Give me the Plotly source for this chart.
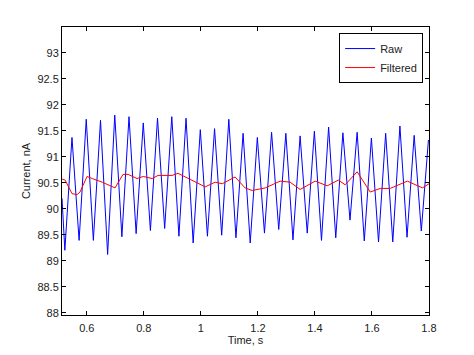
import plotly.graph_objects as go

# Raw signal: alternating extremes
raw_t = [0.513, 0.523, 0.548, 0.573, 0.598, 0.623, 0.648, 0.673, 0.698, 0.723,
         0.748, 0.773, 0.798, 0.823, 0.848, 0.873, 0.898, 0.923, 0.948, 0.973,
         0.998, 1.023, 1.048, 1.073, 1.098, 1.123, 1.148, 1.173, 1.198, 1.223,
         1.248, 1.273, 1.298, 1.323, 1.348, 1.373, 1.398, 1.423, 1.448, 1.473,
         1.498, 1.523, 1.548, 1.573, 1.598, 1.623, 1.648, 1.673, 1.698, 1.723,
         1.748, 1.773, 1.798, 1.800]
raw_v = [90.20, 89.20, 91.37, 89.39, 91.72, 89.39, 91.70, 89.12, 91.80, 89.46,
         91.77, 89.52, 91.65, 89.58, 91.74, 89.62, 91.77, 89.47, 91.74, 89.34,
         91.52, 89.47, 91.54, 89.49, 91.72, 89.44, 91.45, 89.34, 91.37, 89.53,
         91.47, 89.60, 91.45, 89.40, 91.40, 89.53, 91.49, 89.39, 91.57, 89.44,
         91.46, 89.78, 91.47, 89.38, 91.36, 89.36, 91.45, 89.36, 91.59, 89.45,
         91.41, 89.57, 91.32, 91.30]

filt_t = [0.513, 0.524, 0.548, 0.566, 0.576, 0.601, 0.619, 0.654, 0.699, 0.727,
          0.745, 0.776, 0.798, 0.829, 0.850, 0.899, 0.920, 0.955, 1.015, 1.050,
          1.075, 1.120, 1.155, 1.180, 1.226, 1.278, 1.313, 1.348, 1.401, 1.443,
          1.482, 1.506, 1.548, 1.594, 1.629, 1.664, 1.724, 1.777, 1.800]
filt_v = [90.57, 90.55, 90.29, 90.27, 90.32, 90.62, 90.58, 90.51, 90.40, 90.66,
          90.66, 90.58, 90.62, 90.58, 90.64, 90.64, 90.68, 90.58, 90.42, 90.51,
          90.48, 90.61, 90.40, 90.35, 90.40, 90.53, 90.51, 90.37, 90.53, 90.44,
          90.55, 90.46, 90.71, 90.32, 90.39, 90.39, 90.53, 90.40, 90.48]

x_ticks = [0.6, 0.8, 1.0, 1.2, 1.4, 1.6, 1.8]
x_ticktext = ["0.6", "0.8", "1", "1.2", "1.4", "1.6", "1.8"]
y_ticks = [88, 88.5, 89, 89.5, 90, 90.5, 91, 91.5, 92, 92.5, 93]
y_ticktext = ["88", "88.5", "89", "89.5", "90", "90.5", "91", "91.5", "92", "92.5", "93"]

fig = go.Figure()
fig.add_trace(go.Scatter(x=raw_t, y=raw_v, mode="lines", name="Raw",
                         line=dict(color="#0000ff", width=1)))
fig.add_trace(go.Scatter(x=filt_t, y=filt_v, mode="lines", name="Filtered",
                         line=dict(color="#ff0000", width=1)))

axis_common = dict(showgrid=False, zeroline=False, showline=True, linecolor="black",
                   linewidth=1, mirror="ticks", ticks="inside", ticklen=4,
                   tickcolor="black", tickfont=dict(size=11, color="#222"))

# page body has an 8px default margin, so the figure is sized to fit the window
fig.update_layout(
    width=466, height=347,
    margin=dict(l=54, r=45, t=19, b=40),
    paper_bgcolor="white", plot_bgcolor="white",
    font=dict(family="Liberation Sans, Arial, sans-serif", size=11, color="#222"),
    xaxis=dict(range=[0.513, 1.8], tickvals=x_ticks, ticktext=x_ticktext,
               ticklabelstandoff=3,
               title=dict(text="Time, s", standoff=0, font=dict(size=11)),
               **axis_common),
    yaxis=dict(range=[87.955, 93.495], tickvals=y_ticks, ticktext=y_ticktext,
               ticklabelstandoff=0,
               title=dict(text="Current, nA", standoff=4, font=dict(size=11)),
               **axis_common),
    legend=dict(x=0.984, y=0.979, xanchor="right", yanchor="top",
                bordercolor="black", borderwidth=1, bgcolor="white",
                font=dict(size=11), tracegroupgap=0, itemwidth=30),
    showlegend=True,
)

fig.write_html("out.html")
